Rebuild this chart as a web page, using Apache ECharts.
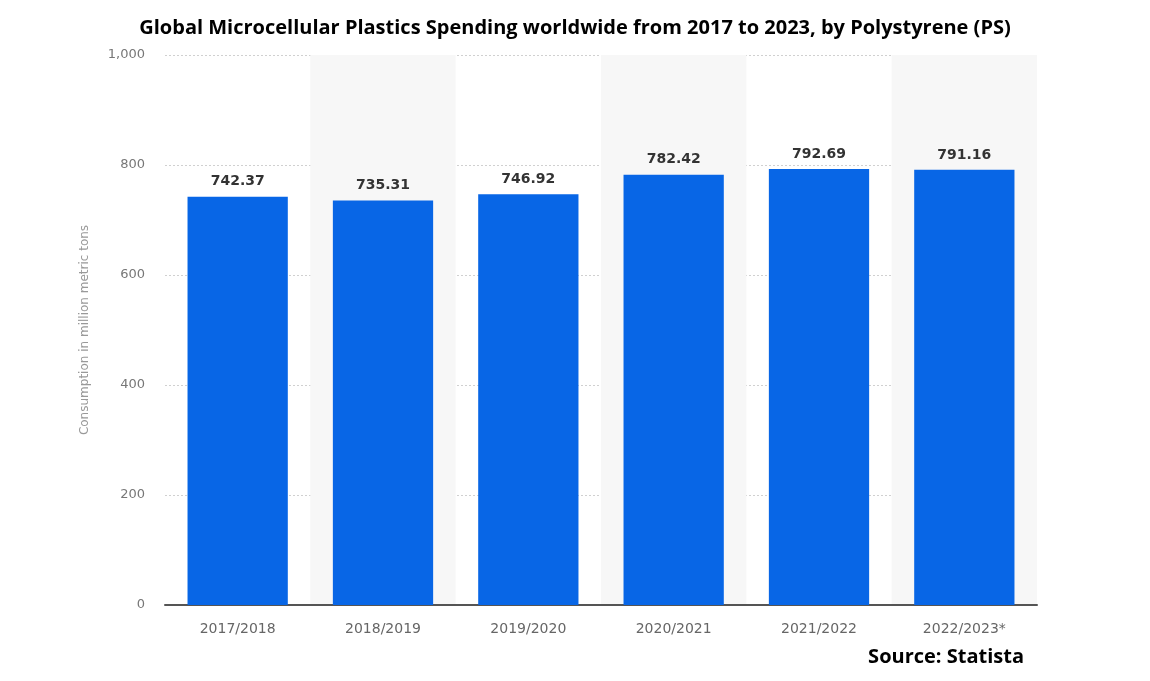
<!DOCTYPE html>
<html>
<head>
<meta charset="utf-8">
<script src="https://cdn.jsdelivr.net/npm/echarts@6/dist/echarts.min.js"></script>
<style>
  html, body { margin: 0; padding: 0; background: #fff; }
  #main { width: 1150px; height: 681px; }
</style>
</head>
<body>
<div id="main"></div>
<script>
// 数据
var categories = ['2017/2018', '2018/2019', '2019/2020', '2020/2021', '2021/2022', '2022/2023*'];
var consumption = [742.37, 735.31, 746.92, 782.42, 792.69, 791.16];

var myChart = echarts.init(document.getElementById('main'));

myChart.setOption({
    backgroundColor: '#fff',
    title: [{
        text: 'Global Microcellular Plastics Spending worldwide from 2017 to 2023, by Polystyrene (PS)',
        left: 'center',
        top: 13,
        textStyle: { fontFamily: 'Open Sans', fontSize: 20, fontWeight: 'bold', color: '#000' }
    }, {
        text: 'Source: Statista',
        right: 121,
        top: 642,
        textStyle: { fontFamily: 'Open Sans', fontSize: 20, fontWeight: 'bold', color: '#000' }
    }],
    grid: { left: 165, right: 113, top: 55, bottom: 76 },
    xAxis: {
        type: 'category',
        data: categories,
        axisLine: { lineStyle: { color: '#555', width: 2 } },
        axisTick: { show: false },
        axisLabel: { color: '#666', fontSize: 14, fontFamily: 'DejaVu Sans', margin: 17 },
        splitArea: { show: true, areaStyle: { color: ['rgba(255,255,255,0)', '#f7f7f7'] } }
    },
    yAxis: {
        type: 'value',
        min: 0,
        max: 1000,
        interval: 200,
        name: 'Consumption in million metric tons',
        nameLocation: 'middle',
        nameGap: 74,
        nameTextStyle: { color: '#999', fontSize: 12, fontFamily: 'DejaVu Sans' },
        axisLine: { show: false },
        axisTick: { show: false },
        axisLabel: {
            color: '#777', fontSize: 13, fontFamily: 'DejaVu Sans', margin: 20,
            formatter: function (v) { return v.toLocaleString('en-US'); }
        },
        splitLine: { lineStyle: { color: '#d0d0d0', type: [2, 2] } }
    },
    series: [{
        type: 'bar',
        data: consumption,
        barWidth: '69%',
        itemStyle: { color: '#0866e6' },
        label: {
            show: true,
            position: 'top',
            distance: 8,
            color: '#333',
            fontSize: 14,
            fontWeight: 'bold',
            fontFamily: 'DejaVu Sans',
            formatter: function (p) { return p.value.toFixed(2); }
        }
    }]
});
</script>
</body>
</html>
